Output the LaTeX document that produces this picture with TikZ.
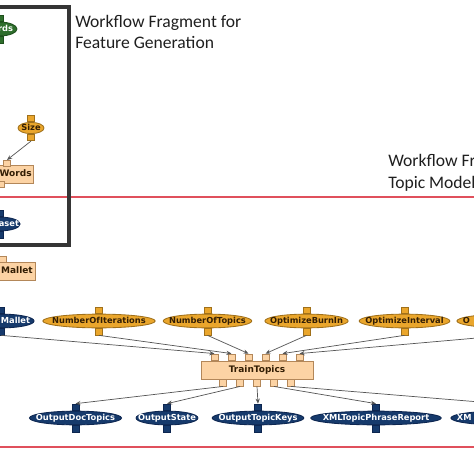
\documentclass[tikz,border=0pt]{standalone}
\usepackage{fontspec}
\setmainfont{Carlito}
\newfontfamily\boxfont{DejaVu Sans}
\usetikzlibrary{positioning, shapes.geometric, arrows.meta, calc}
\definecolor{ofill}{HTML}{EAA62C}
\definecolor{oline}{HTML}{A0701A}
\definecolor{otext}{HTML}{331E04}
\definecolor{pfill}{HTML}{FCD3A4}
\definecolor{pline}{HTML}{B38759}
\definecolor{bfill}{HTML}{163A6C}
\definecolor{bline}{HTML}{0D2650}
\definecolor{gfill}{HTML}{2E6E2C}
\definecolor{gline}{HTML}{1E4F1C}
\definecolor{lgray}{HTML}{555555}
\definecolor{redline}{HTML}{E0505C}
\definecolor{frame}{HTML}{353535}
\tikzstyle{param} = [ellipse, draw=oline, fill=ofill, text=otext, font=\boxfont\bfseries\fontsize{5.9}{7}\selectfont, inner xsep=-5pt, inner ysep=0pt, text height=4.4pt, text depth=1.2pt, minimum height=9.8pt, line width=0.6pt]
\tikzstyle{data} = [param, draw=bline, fill=bfill, text=white]
\tikzstyle{seed} = [param, draw=gline, fill=gfill, text=white]
\tikzstyle{task} = [rectangle, draw=pline, fill=pfill, text=otext, font=\boxfont\bfseries\fontsize{6.4}{7.5}\selectfont, text height=4.8pt, text depth=1.3pt, minimum height=11pt, inner xsep=2pt, line width=0.6pt]
\tikzstyle{otab} = [rectangle, draw=oline, fill=ofill, minimum width=5pt, minimum height=4.5pt, inner sep=0pt, line width=0.5pt]
\tikzstyle{btab} = [otab, draw=bline, fill=bfill]
\tikzstyle{gtab} = [otab, draw=gline, fill=gfill]
\tikzstyle{ptab} = [otab, draw=pline, fill=pfill]
\tikzstyle{arrow} = [-{Stealth[length=3.6pt, width=3pt]}, draw=lgray, line width=0.5pt]
\tikzstyle{title} = [font=\fontsize{12.5}{15.5}\selectfont, align=left, text=black!88, anchor=west, inner sep=0pt]
\newcommand{\ports}[2]{%
  \node[#2, anchor=south] (#1-in) at (#1.north) {};
  \node[#2, anchor=north] (#1-out) at (#1.south) {};}

\begin{document}
\begin{tikzpicture}[x=0.025cm, y=-0.025cm]
    \clip (0,0) rectangle (474,474);
    \fill[white] (0,0) rectangle (474,474);

    %bands and frame
    \draw[redline, line width=2pt] (-5,197) -- (480,197);
    \draw[redline, line width=2pt] (-5,447) -- (480,447);
    \draw[frame, line width=2.2pt] (-10,7) rectangle (69,245);
    \node (fgtitle) [title] at (75,32) {Workflow Fragment for\\Feature Generation};
    \node (tmtitle) [title] at (388,173) {Workflow Fr\\Topic Model};

    %feature generation
    \node (seedw) [seed, text width=18.5pt, align=right, inner xsep=-0.7pt] at (0,29) {rds};
    \ports{seedw}{gtab}
    \node (size) [param, minimum width=18.5pt, minimum height=8pt] at (31,128) {Size};
    \ports{size}{otab}
    \node (words) [task, text width=60pt, align=right, anchor=east, inner xsep=1.4pt] at (34,174) {Words};
    \node (words-in) [ptab, anchor=south] at (7,167) {};
    \node (words-out) [ptab, anchor=north] at (1,181) {};
    \node (dset) [data, text width=27pt, align=right, inner xsep=-3.4pt] at (0,224) {aset};
    \ports{dset}{btab}

    %topic modeling
    \node (tomal) [task, text width=60pt, align=right, anchor=east] at (36,271) {Mallet};
    \node (tomal-in) [ptab, anchor=south] at (3,263) {};
    \node (mal) [data, text width=41.3pt, align=right, inner xsep=-4pt] at (1,321) {Mallet};
    \ports{mal}{btab}
    \node (iter) [param] at (99,321) {NumberOfIterations};
    \node (ntop) [param] at (207.5,321) {NumberOfTopics};
    \node (burn) [param] at (306.5,321) {OptimizeBurnIn};
    \node (intv) [param] at (404.5,321) {OptimizeInterval};
    \node (opt) [param, text width=62.6pt, align=left, inner xsep=-6.1pt] at (507,321) {O};
    \foreach \n in {iter, ntop, burn, intv, opt} {\ports{\n}{otab}}

    \node (train) [task, minimum width=79.7pt, minimum height=11.4pt] at (257,370) {TrainTopics};
    \foreach \i/\dx in {1/-42.5, 2/-25.5, 3/-8.5, 4/8.5, 5/25.5, 6/42.5}
        \node (train-in\i) [ptab, anchor=south] at ($(train.north)+(\dx,0)$) {};
    \foreach \i/\dx in {1/-34, 2/-17, 3/0, 4/17, 5/34}
        \node (train-out\i) [ptab, anchor=north] at ($(train.south)+(\dx,0)$) {};

    \node (doc) [data] at (75.5,418) {OutputDocTopics};
    \node (state) [data] at (167,418) {OutputState};
    \node (keys) [data] at (258,418) {OutputTopicKeys};
    \node (phrase) [data] at (376,418) {XMLTopicPhraseReport};
    \node (xml) [data, text width=61.2pt, align=left, inner xsep=-5.9pt] at (500,418) {XM};
    \foreach \n in {doc, state, keys, phrase, xml} {\ports{\n}{btab}}

    %connectors
    \draw [arrow] (size-out.south) -- (words-in.north);
    \draw [arrow] (mal-out.south) -- (train-in1.north);
    \draw [arrow] (iter-out.south) -- (train-in2.north);
    \draw [arrow] (ntop-out.south) -- (train-in3.north);
    \draw [arrow] (burn-out.south) -- (train-in4.north);
    \draw [arrow] (intv-out.south) -- (train-in5.north);
    \draw [arrow] (opt-out.south) -- (train-in6.north);
    \draw [arrow] (train-out1.south) -- (doc-in.north);
    \draw [arrow] (train-out2.south) -- (state-in.north);
    \draw [arrow] (train-out3.south) -- (keys-in.north);
    \draw [arrow] (train-out4.south) -- (phrase-in.north);
    \draw [arrow] (train-out5.south) -- (xml-in.north);
\end{tikzpicture}
\end{document}
